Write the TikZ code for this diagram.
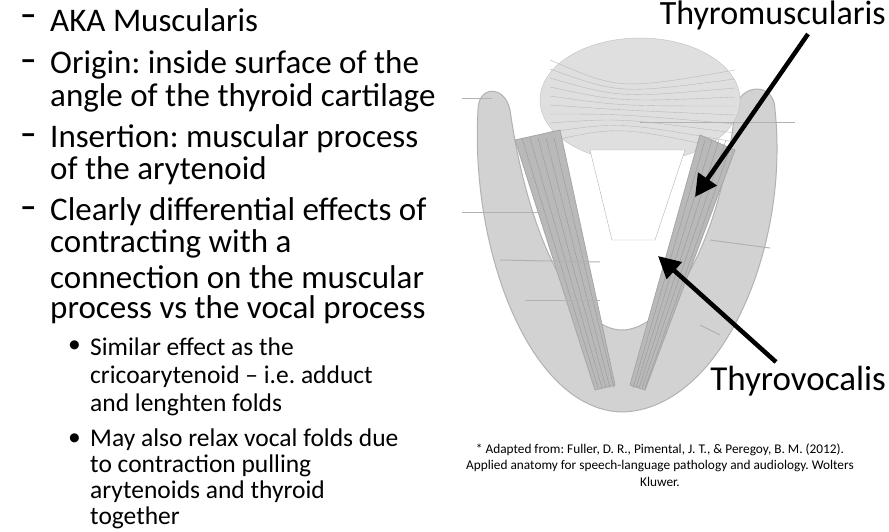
\documentclass[tikz,border=0pt]{standalone}
\usepackage{fontspec}
\setmainfont{Carlito}
\frenchspacing
\usetikzlibrary{arrows.meta}
\begin{document}
\begin{tikzpicture}[x=1pt,y=-1pt,
  mainln/.style={anchor=west,inner sep=0pt,font=\fontsize{33}{36}\selectfont},
  subln/.style={anchor=west,inner sep=0pt,font=\fontsize{25.5}{28}\selectfont},
  cite/.style={align=center,inner sep=0pt,font=\fontsize{13.3}{16.5}\selectfont},
  bigarrow/.style={line width=4.5pt,-{Triangle[length=22pt,width=22pt]}},
  leader/.style={gray!60,line width=1pt},
  bone/.style={fill=gray!35,draw=gray!60,line width=1pt},
  muscle/.style={fill=gray!55,draw=gray!70,line width=0.8pt}]
\useasboundingbox (0,0) rectangle (889,531);
% left text
\node[mainln] (d1) at (20,20) {\textbf{–}};
\node[mainln] (l1) at (50,20) {AKA Muscularis};
\node[mainln] (d2) at (20,65) {\textbf{–}};
\node[mainln] (l2) at (50,65) {Origin: inside surface of the};
\node[mainln] (l3) at (50,98) {angle of the thyroid cartilage};
\node[mainln] (d4) at (20,139) {\textbf{–}};
\node[mainln] (l4) at (50,139) {Insertion: muscular process};
\node[mainln] (l5) at (50,171) {of the arytenoid};
\node[mainln] (d6) at (20,212) {\textbf{–}};
\node[mainln] (l6) at (50,212) {Clearly differential effects of};
\node[mainln] (l7) at (50,244) {contracting with a};
\node[mainln] (l8) at (50,277) {connection on the muscular};
\node[mainln] (l9) at (50,310) {process vs the vocal process};
\node[subln] (b1) at (68,347) {•};
\node[subln] (s1) at (90,347) {Similar effect as the};
\node[subln] (s2) at (90,377) {cricoarytenoid – i.e. adduct};
\node[subln] (s3) at (90,405) {and lenghten folds};
\node[subln] (b4) at (68,440) {•};
\node[subln] (s4) at (90,440) {May also relax vocal folds due};
\node[subln] (s5) at (90,466) {to contraction pulling};
\node[subln] (s6) at (90,492) {arytenoids and thyroid};
\node[subln] (s7) at (90,518) {together};
% anatomy drawing
\path[bone] (478,110) .. controls (478,85) and (505,85) .. (510,110)
  .. controls (530,250) and (580,330) .. (622,330)
  .. controls (665,330) and (720,250) .. (735,110)
  .. controls (740,82) and (775,82) .. (775,110)
  .. controls (790,250) and (720,410) .. (622,412)
  .. controls (530,410) and (470,250) .. (478,110) -- cycle;
\path[fill=gray!25,draw=gray!50] (640,100) ellipse [x radius=100,y radius=62];
\foreach \i in {0,...,9}{\draw[gray!55] (550,60+\i*9) .. controls (620,90+\i*4) .. (735,70+\i*9);}
\path[muscle] (515,140) -- (560,130) -- (615,385) -- (595,390) -- cycle;
\path[muscle] (700,135) -- (735,150) -- (645,390) -- (630,385) -- cycle;
\foreach \i in {0,...,4}{
  \draw[gray!80] (522+\i*8,138) -- (598+\i*4,388);
  \draw[gray!80] (705+\i*7,140) -- (633+\i*3,388);}
\path[fill=white,draw=gray!60] (590,150) -- (685,150) -- (655,240) -- (612,240) -- cycle;
\draw[leader] (462,98) -- (492,98);
\draw[leader] (462,212) -- (540,212);
\draw[leader] (500,260) -- (600,262);
\draw[leader] (525,300) -- (600,300);
\draw[leader] (640,122) -- (795,122);
\draw[leader] (710,240) -- (770,248);
\draw[leader] (700,325) -- (720,335);
% labels and arrows
\node[anchor=east,inner sep=0pt,font=\fontsize{34}{38}\selectfont] (tm) at (886,15) {Thyromuscularis};
\node[anchor=east,inner sep=0pt,font=\fontsize{35}{40}\selectfont] (tv) at (886,381) {Thyrovocalis};
\coordinate (tmfrom) at (808,34);
\coordinate (tvfrom) at (776,362);
\coordinate (tmto) at (695,197);
\coordinate (tvto) at (658,256);
\draw[bigarrow] (tmfrom) -- (tmto);
\draw[bigarrow] (tvfrom) -- (tvto);
\node[cite] (c) at (660,465) {* Adapted from: Fuller, D. R., Pimental, J. T., \& Peregoy, B. M. (2012).\\Applied anatomy for speech-language pathology and audiology. Wolters\\Kluwer.};
\end{tikzpicture}
\end{document}
